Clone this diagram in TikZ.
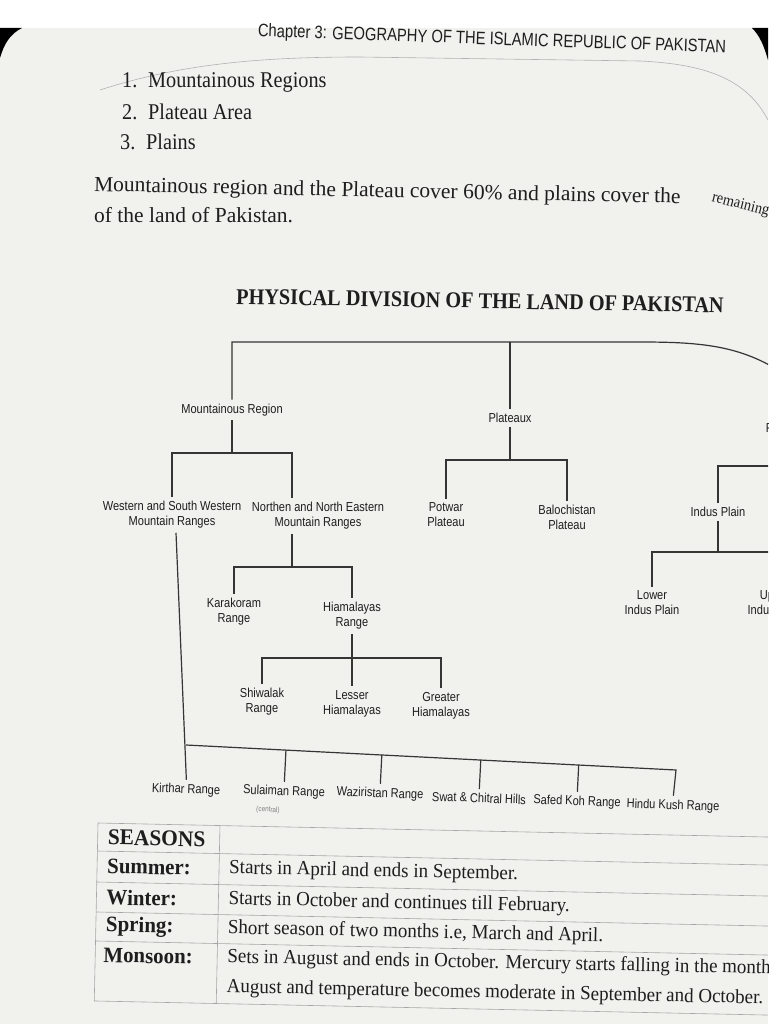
\documentclass[tikz,border=0pt]{standalone}
\usepackage{fontspec}
\setmainfont{Liberation Serif}
\newfontfamily\treefont[FakeStretch=0.85]{Liberation Sans}
\newfontfamily\headfont[FakeStretch=0.82]{Liberation Sans}
\newfontfamily\bodyfont[FakeStretch=0.9]{Liberation Serif}
\newfontfamily\cellfont[FakeStretch=0.95]{Liberation Serif}
\usetikzlibrary{positioning, calc}
\definecolor{paper}{HTML}{F1F1EE}
\definecolor{ink}{HTML}{1E1E1E}

\begin{document}
\begin{tikzpicture}[x=1pt, y=-1pt,
    lbl/.style={font=\treefont\fontsize{13}{15}\selectfont, align=center, inner sep=4pt, text=ink},
    bar/.style={line width=1.2pt, draw=ink!90},
    body/.style={font=\bodyfont\fontsize{22.5}{26}\selectfont, anchor=west, inner sep=0pt, text=ink},
    cell/.style={font=\cellfont\fontsize{20}{23}\selectfont, anchor=west, inner sep=0pt, text=ink},
    head/.style={font=\cellfont\bfseries\fontsize{22}{25}\selectfont, anchor=west, inner sep=0pt, text=ink},
    rule/.style={draw=gray!70, line width=0.6pt}]

\useasboundingbox (0,0) rectangle (768,1024);
\clip (0,0) rectangle (768,1024);
\fill[paper] (0,0) rectangle (768,1024);
\fill[white] (0,0) rectangle (768,28);
\fill[black] (0,28) -- (22,28) .. controls (10,34) and (4,44) .. (0,58) -- cycle;
\fill[black] (768,28) -- (752,28) .. controls (760,36) and (764,46) .. (768,60) -- cycle;

% page header
\node[font=\headfont\fontsize{18}{20}\selectfont, text=ink, rotate=-2] (chap) at (492,40)
    {Chapter 3: GEOGRAPHY OF THE ISLAMIC REPUBLIC OF PAKISTAN};
\draw[gray!60, line width=0.6pt] (100,90) .. controls (180,64) and (260,57) .. (360,57)
    -- (640,61) .. controls (700,64) and (745,76) .. (768,120);

% list and paragraph
\node[body] (item1) at (122,82) {\makebox[26pt][l]{1.}Mountainous Regions};
\node[body] (item2) at (122,112) {\makebox[26pt][l]{2.}Plateau Area};
\node[body] (item3) at (120,142) {\makebox[26pt][l]{3.}Plains};
\node[body, rotate=-1.2, font=\fontsize{21.5}{25}\selectfont] (para1) at (94,186)
    {Mountainous region and the Plateau cover 60\% and plains cover the};
\node[body, rotate=-14, font=\bodyfont\fontsize{16}{18}\selectfont] (para1b) at (712,198) {remaining};
\node[body, font=\fontsize{21.5}{25}\selectfont] (para2) at (94,215) {of the land of Pakistan.};

% chart title
\node[font=\bodyfont\bfseries\fontsize{22.5}{26}\selectfont, rotate=-1, text=ink] (title) at (480,301)
    {PHYSICAL DIVISION OF THE LAND OF PAKISTAN};

% first level
\coordinate (top) at (0,342);
\node[lbl] (mtn) at (232,410) {Mountainous Region};
\node[lbl] (plat) at (510,418) {Plateaux};
\node[lbl] (plains) at (781,428) {Plains};
\draw[bar] (mtn.north) -- (mtn.north |- top) -- (640,342) .. controls (705,342) and (745,346) .. (790,378);
\draw[bar] (plat.north) -- (plat.north |- top);

% mountainous region
\coordinate (mbar) at (0,453);
\node[lbl] (west) at (172,515) {Western and South Western\\Mountain Ranges};
\node[lbl] (north) at (318,516) {Northen and North Eastern\\Mountain Ranges};
\draw[bar] (mtn.south) -- (mtn.south |- mbar);
\draw[bar] (west.north) |- ([xshift=-26pt]north.north |- mbar) -- ([xshift=-26pt]north.north);

% plateaux
\coordinate (pbar) at (0,460);
\node[lbl] (potwar) at (446,515) {Potwar\\Plateau};
\node[lbl] (baloch) at (567,517) {Balochistan\\Plateau};
\draw[bar] (plat.south) -- (plat.south |- pbar);
\draw[bar] (potwar.north) |- (baloch.north |- pbar) -- (baloch.north);

% plains
\node[lbl] (indus) at (718,512) {Indus Plain};
\draw[bar] (indus.north) |- (plains.south |- 0,466) -- (plains.south);
\coordinate (ibar) at (0,552);
\node[lbl] (lower) at (652,603) {Lower\\Indus Plain};
\node[lbl] (upper) at (775,603) {Upper\\Indus Plain};
\draw[bar] (indus.south) -- (indus.south |- ibar);
\draw[bar] (lower.north) |- (upper.north |- ibar) -- (upper.north);

% northern ranges
\coordinate (kbar) at (0,567);
\node[lbl] (karak) at (234,612) {Karakoram\\Range};
\node[lbl] (himal) at (352,616) {Hiamalayas\\Range};
\draw[bar] ([xshift=-26pt]north.south) -- ([xshift=-26pt]north.south |- kbar);
\draw[bar] (karak.north) |- (himal.north |- kbar) -- (himal.north);

% himalayas
\coordinate (hbar) at (0,658);
\node[lbl] (shiwa) at (262,702) {Shiwalak\\Range};
\node[lbl] (lesser) at (352,704) {Lesser\\Hiamalayas};
\node[lbl] (greater) at (441,706) {Greater\\Hiamalayas};
\draw[bar] (himal.south) -- (lesser.north);
\draw[bar] (shiwa.north) |- (greater.north |- hbar) -- (greater.north);

% western ranges
\coordinate (bL) at (186,745);
\coordinate (bR) at (676,770);
\node[lbl, rotate=-2] (kirthar) at (186,790) {Kirthar Range};
\node[lbl, rotate=-2] (sulai) at (284,792) {Sulaiman Range};
\node[lbl, rotate=-2] (wazir) at (380,794) {Waziristan Range};
\node[lbl, rotate=-2] (swat) at (479,798) {Swat \& Chitral Hills};
\node[lbl, rotate=-2] (safed) at (577,802) {Safed Koh Range};
\node[lbl, rotate=-2] (hindu) at (673,806) {Hindu Kush Range};
\node[font=\treefont\fontsize{7.5}{8}\selectfont, text=gray, rotate=-4] (note) at (268,810) {(central)};
\draw[bar] ([xshift=4pt]west.south) -- (kirthar.north);
\draw[bar] (bL) -- (bR) -- (hindu.north);
\foreach \n in {sulai, wazir, swat, safed}
    \draw[bar] (\n.north) -- ($(bL)!(\n.north)!(bR)$);

% seasons table
\begin{scope}[rotate around={-1.2:(98,823)}, transform shape]
  \draw[rule] (98,823) rectangle (830,1001);
  \draw[rule] (220,823) -- (220,1001);
  \foreach \y in {851,882,912,941}
    \draw[rule] (98,\y) -- (830,\y);
  \node[head, font=\cellfont\bfseries\fontsize{22.5}{26}\selectfont] (seasons) at (108,837) {SEASONS};
  \node[head] (summer) at (108,866) {Summer:};
  \node[head] (winter) at (108,897) {Winter:};
  \node[head] (spring) at (108,926) {Spring:};
  \node[head] (monsoon) at (106,955) {Monsoon:};
  \node[cell] (summerT) at (230,866) {Starts in April and ends in September.};
  \node[cell] (winterT) at (230,897) {Starts in October and continues till February.};
  \node[cell] (springT) at (230,926) {Short season of two months i.e, March and April.};
  \node[cell] (monsoonA) at (230,955) {Sets in August and ends in October. Mercury starts falling in the month of};
  \node[cell] (monsoonB) at (230,985) {August and temperature becomes moderate in September and October.};
\end{scope}
\end{tikzpicture}
\end{document}
